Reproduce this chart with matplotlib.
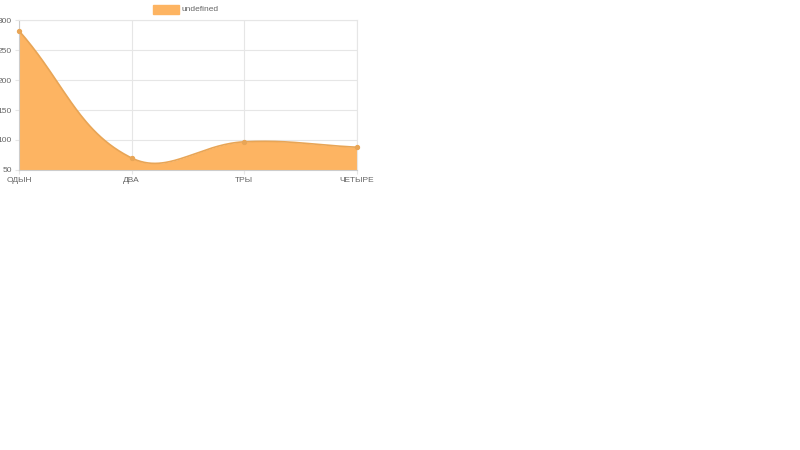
import numpy as np
import matplotlib
matplotlib.use("Agg")
import matplotlib.pyplot as plt

plt.rcParams["font.family"] = ["Liberation Sans", "DejaVu Sans"]

labels = ["ОДЫН", "ДВА", "ТРЫ", "ЧЕТЫРЕ"]
values = [282, 70, 97, 88]
series_name = "undefined"

fill_color = "#fdb462"
line_color = "#e8a556"
grid_color = "#e6e6e6"
text_color = "#666666"


def bezier_path(px, py, tension=0.4):
    # chart.js style spline control points, computed in pixel space
    n = len(px)
    xs, ys = [], []
    cps = []
    for i in range(n):
        pp = (px[max(i - 1, 0)], py[max(i - 1, 0)])
        cur = (px[i], py[i])
        nx = (px[min(i + 1, n - 1)], py[min(i + 1, n - 1)])
        d01 = np.hypot(cur[0] - pp[0], cur[1] - pp[1])
        d12 = np.hypot(nx[0] - cur[0], nx[1] - cur[1])
        tot = d01 + d12
        s01 = d01 / tot if tot else 0
        s12 = d12 / tot if tot else 0
        fa, fb = tension * s01, tension * s12
        cp_prev = (cur[0] - fa * (nx[0] - pp[0]), cur[1] - fa * (nx[1] - pp[1]))
        cp_next = (cur[0] + fb * (nx[0] - pp[0]), cur[1] + fb * (nx[1] - pp[1]))
        cps.append((cp_prev, cp_next))
    t = np.linspace(0, 1, 60)
    for i in range(n - 1):
        p0 = np.array([px[i], py[i]])
        p1 = np.array(cps[i][1])
        p2 = np.array(cps[i + 1][0])
        p3 = np.array([px[i + 1], py[i + 1]])
        b = ((1 - t) ** 3)[:, None] * p0 + (3 * (1 - t) ** 2 * t)[:, None] * p1 \
            + (3 * (1 - t) * t ** 2)[:, None] * p2 + (t ** 3)[:, None] * p3
        xs.extend(b[:, 0])
        ys.extend(b[:, 1])
    return np.array(xs), np.array(ys)


fig = plt.figure(figsize=(8, 4.5), dpi=100)
ax = fig.add_axes([19 / 800, 1 - 170 / 450, 338 / 800, 150 / 450])
ax.set_xlim(0, len(labels) - 1)
ax.set_ylim(50, 300)
fig.canvas.draw()

x = np.arange(len(labels))
pix = ax.transData.transform(np.column_stack([x, values]))
sx, sy = bezier_path(pix[:, 0], pix[:, 1])
curve = ax.transData.inverted().transform(np.column_stack([sx, sy]))

ax.fill_between(curve[:, 0], curve[:, 1], 50, color=fill_color, linewidth=0, zorder=2)
ax.plot(curve[:, 0], curve[:, 1], color=line_color, linewidth=1.2, zorder=3)
ax.scatter(x, values, s=8, color=line_color, zorder=4, clip_on=False)

ax.set_xticks(x)
ax.set_xticklabels(labels)
ax.set_yticks([50, 100, 150, 200, 250, 300])
ax.grid(True, color=grid_color, linewidth=0.8)
ax.set_axisbelow(True)
ax.tick_params(colors=grid_color, labelcolor=text_color, labelsize=6,
               length=3, width=0.8)
ax.tick_params(axis="y", pad=2)
ax.tick_params(axis="x", pad=2)
for s in ax.spines.values():
    s.set_color(grid_color)
    s.set_linewidth(0.8)
ax.spines["left"].set_color("#cccccc")
ax.spines["bottom"].set_color("#cccccc")

# legend box like chart.js
fig.patches.append(plt.Rectangle((153 / 800, 1 - 14 / 450), 26 / 800, 9 / 450,
                                 transform=fig.transFigure, color=fill_color))
fig.text(182 / 800, 1 - 9.5 / 450, series_name, fontsize=6, color=text_color, va="center")

fig.savefig("out.png", dpi=100)
